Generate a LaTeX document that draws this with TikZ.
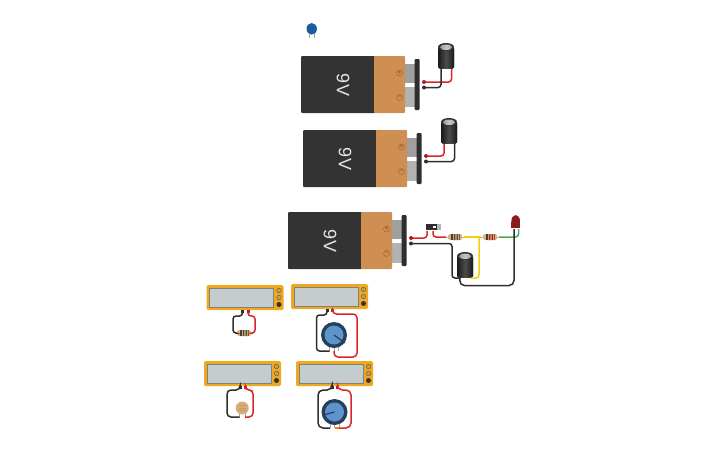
\documentclass[tikz,border=0pt]{standalone}
\usepackage{fontspec}
\setmainfont{Liberation Sans}
\definecolor{batdark}{HTML}{333333}
\definecolor{batorange}{HTML}{CF8E52}
\definecolor{wirered}{HTML}{D9262B}
\definecolor{wireblack}{HTML}{2E2E2E}
\definecolor{wireyellow}{HTML}{F4CF10}
\definecolor{wiregreen}{HTML}{4CAF50}
\definecolor{meterbody}{HTML}{F0A81C}
\definecolor{meterscreen}{HTML}{C4CCCE}
\definecolor{potdark}{HTML}{24405A}
\definecolor{potblue}{HTML}{5F93CC}
\definecolor{restan}{HTML}{D8B27C}
\definecolor{ceramic}{HTML}{1A5C9E}
\definecolor{ledred}{HTML}{8A1C1C}
\tikzset{
  redwire/.style={wirered,line width=1.5pt,rounded corners=3pt},
  blackwire/.style={wireblack,line width=1.5pt,rounded corners=3pt},
  yellowwire/.style={wireyellow,line width=1.5pt,rounded corners=3pt},
  greenwire/.style={wiregreen,line width=1.5pt,rounded corners=3pt},
  lead/.style={gray!70,line width=1pt},
  pics/battery/.style={code={
    \fill[gray!75] (104,8) rectangle (114,27);
    \fill[gray!60] (104,31) rectangle (114,51);
    \fill[batdark,rounded corners=1pt] (0,0) rectangle (74,57);
    \fill[batorange,rounded corners=1pt] (73,0) rectangle (104,57);
    \fill[wireblack,rounded corners=1pt] (113.5,3) rectangle (118.5,54);
    \node[rotate=-90,text=white!90!black,font=\fontsize{18}{18}\selectfont] (-volt) at (42,29) {9V};
    \draw[batorange!75!black,line width=0.5pt] (98.5,17) circle (3);
    \draw[batorange!75!black,line width=0.5pt] (98.5,41.5) circle (3);
    \node[text=batorange!45!black,font=\fontsize{6}{6}\selectfont,inner sep=0pt] (-pl) at (98.5,17) {+};
    \node[text=batorange!45!black,font=\fontsize{6}{6}\selectfont,inner sep=0pt] (-mi) at (98.5,41.5) {−};
    \coordinate (-plus) at (123,26);
    \coordinate (-minus) at (123,31.5);
  }},
  pics/capacitor/.style={code={
    \draw[lead] (3,24) -- (3,26) (13.5,24) -- (13.5,26);
    \fill[left color=black!90,right color=black!90,middle color=black!70,rounded corners=1.5pt] (0,4) rectangle (16,25.5);
    \fill[black!80] (8,4) ellipse (8 and 4);
    \fill[left color=gray!80,right color=gray!70,middle color=gray!45] (8,4.3) ellipse (6 and 2.8);
    \coordinate (-a) at (3,26);
    \coordinate (-b) at (13.5,26);
  }},
  pics/resistor/.style={code={
    \draw[lead,restan] (-9,0) -- (9,0);
    \fill[restan,rounded corners=1.5pt] (-7,-3) rectangle (7,3);
    \fill[black!75] (-4,-3) rectangle (-2.5,3);
    \fill[#1] (-1.2,-3) rectangle (0.4,3) (1.6,-3) rectangle (3,3);
    \fill[brown!70!black] (4.2,-3) rectangle (5,3);
    \coordinate (-l) at (-9,0);
    \coordinate (-r) at (9,0);
  }},
  pics/meter/.style={code={
    \fill[meterbody,rounded corners=1.5pt] (0,0) rectangle (77,25);
    \draw[meterscreen,fill=meterscreen] (3,3.5) rectangle (67,22);
    \draw[gray,line width=1pt] (3,3.5) rectangle (67,22);
    \draw[gray!80!black,fill=meterbody!70!gray,line width=0.5pt] (72.5,5.5) circle (2.3);
    \draw[gray!80!black,fill=meterbody!70!gray,line width=0.5pt] (72.5,12.5) circle (2.3);
    \fill[gray!40!black] (72.5,19.5) circle (2.5);
    \fill[wireblack] (34.5,25) rectangle (37.5,28);
    \fill[wirered!85!black] (40,25) rectangle (43,28);
    \coordinate (-com) at (36,28);
    \coordinate (-pos) at (41.5,28);
  }},
  pics/pot/.style={code={
    \draw[lead] (-4.5,12) -- (-4.5,16) (0,12) -- (0,16) (4.5,12) -- (4.5,16);
    \fill[potdark] (0,0) circle (13);
    \fill[potblue] (0,0) circle (9.5);
    \draw[potdark,line width=1.2pt] (0,0) -- #1;
    \coordinate (-a) at (-4.5,16);
    \coordinate (-w) at (0,16);
    \coordinate (-b) at (4.5,16);
  }}
}
\begin{document}
\begin{tikzpicture}[x=1pt,y=-1pt]
    \useasboundingbox (0,0) rectangle (725,453);

    % ceramic capacitor
    \draw[lead] (309.5,32) -- (309.5,38) (314,32) -- (314,38);
    \fill[ceramic] (311.7,28.8) ellipse (5.2 and 5.8);

    % first two batteries
    \pic (b1) at (301,56) {battery};
    \pic (c1) at (438,43) {capacitor};
    \draw[redwire] (b1-plus) -| (c1-b);
    \draw[blackwire] (b1-minus) -| (c1-a);
    \fill[wirered!80!black] (b1-plus) circle (2);
    \fill[wireblack] (b1-minus) circle (2);

    \pic (b2) at (303,130) {battery};
    \pic (c2) at (441,118) {capacitor};
    \draw[redwire] (b2-plus) -| (c2-a);
    \draw[blackwire] (b2-minus) -| (c2-b);
    \fill[wirered!80!black] (b2-plus) circle (2);
    \fill[wireblack] (b2-minus) circle (2);

    % led circuit
    \pic (b3) at (288,212) {battery};
    \pic (c3) at (457,252) {capacitor};
    \pic (r1) at (455,237) {resistor=black!70};
    \pic (r2) at (490,237) {resistor=wirered!80!black};
    \fill[wireblack] (426,224) rectangle (437,230);
    \fill[gray!60] (437,224) rectangle (441,230);
    \fill[white] (433,226) rectangle (436,228);
    \coordinate (swa) at (427,231);
    \coordinate (swb) at (433,231);
    \fill[ledred] (515.7,221) ellipse (4.3 and 6);
    \fill[ledred] (511.4,222) rectangle (520,228);
    \coordinate (leda) at (518.5,229);
    \coordinate (ledk) at (514,229);
    \coordinate (jy) at (479,237);
    \coordinate (jb) at (459.5,285.5);
    \coordinate (jd) at (452,278);
    \draw[redwire] (b3-plus) -| (swa);
    \draw[redwire] (swb) |- (r1-l);
    \draw[yellowwire] (r1-r) -- (r2-l);
    \draw[yellowwire] (jy) |- (c3-b);
    \draw[greenwire] (r2-r) -| (leda);
    \draw[blackwire] (b3-minus) -| (jd) -- (c3-a);
    \draw[blackwire,rounded corners=5pt] (ledk) |- (jb) -- (c3-a);
    \fill[wirered!80!black] (b3-plus) circle (2);
    \fill[wireblack] (b3-minus) circle (2);

    % meter with resistor
    \pic (m1) at (206.5,285) {meter};
    \pic (r3) at (244,333) {resistor=black!70};
    \coordinate (j1a) at (233,316);
    \coordinate (j1b) at (255,316);
    \draw[blackwire] (m1-com) |- (j1a) |- (r3-l);
    \draw[redwire] (m1-pos) |- (j1b) |- (r3-r);

    % meter with first pot
    \pic (m2) at (291,284) {meter};
    \pic (p1) at (334,335) {pot={(11,8)}};
    \coordinate (j2a) at (316.5,351);
    \coordinate (j2b) at (357,357);
    \draw[blackwire] (m2-com) -- ++(0,3) -| (j2a) -- (p1-a);
    \draw[redwire,rounded corners=4pt] (m2-pos) -- ++(0,2) -| (j2b) -| (p1-w);

    % meter with ldr
    \pic (m3) at (204,361) {meter};
    \draw[lead] (239.5,412) -- (239.5,417) (245,412) -- (245,417);
    \fill[restan!90!brown] (242.2,408) circle (6.5);
    \draw[brown!80!white,line width=0.7pt] (239,405.5) -- (245.5,405.5) (238.5,408) -- (246,408) (239,410.5) -- (245.5,410.5);
    \coordinate (ldra) at (239.5,417);
    \coordinate (ldrb) at (245,417);
    \coordinate (j3a) at (227,390);
    \coordinate (j3b) at (253,390);
    \draw[blackwire,rounded corners=4pt] (m3-com) |- (j3a) |- (ldra);
    \draw[redwire,rounded corners=4pt] (m3-pos) |- (j3b) |- (ldrb);

    % meter with second pot
    \pic (m4) at (296,361) {meter};
    \pic (p2) at (334.5,412) {pot={(-9.5,2.5)}};
    \coordinate (j4a) at (318,390);
    \coordinate (j4b) at (351,390);
    \draw[blackwire,rounded corners=5pt] (m4-com) |- (j4a) |- (p2-a);
    \draw[redwire,rounded corners=5pt] (m4-pos) |- (j4b) |- (p2-b);
    \draw[orange,line width=1.5pt] (p2-w) -- (p2-b);
\end{tikzpicture}
\end{document}
